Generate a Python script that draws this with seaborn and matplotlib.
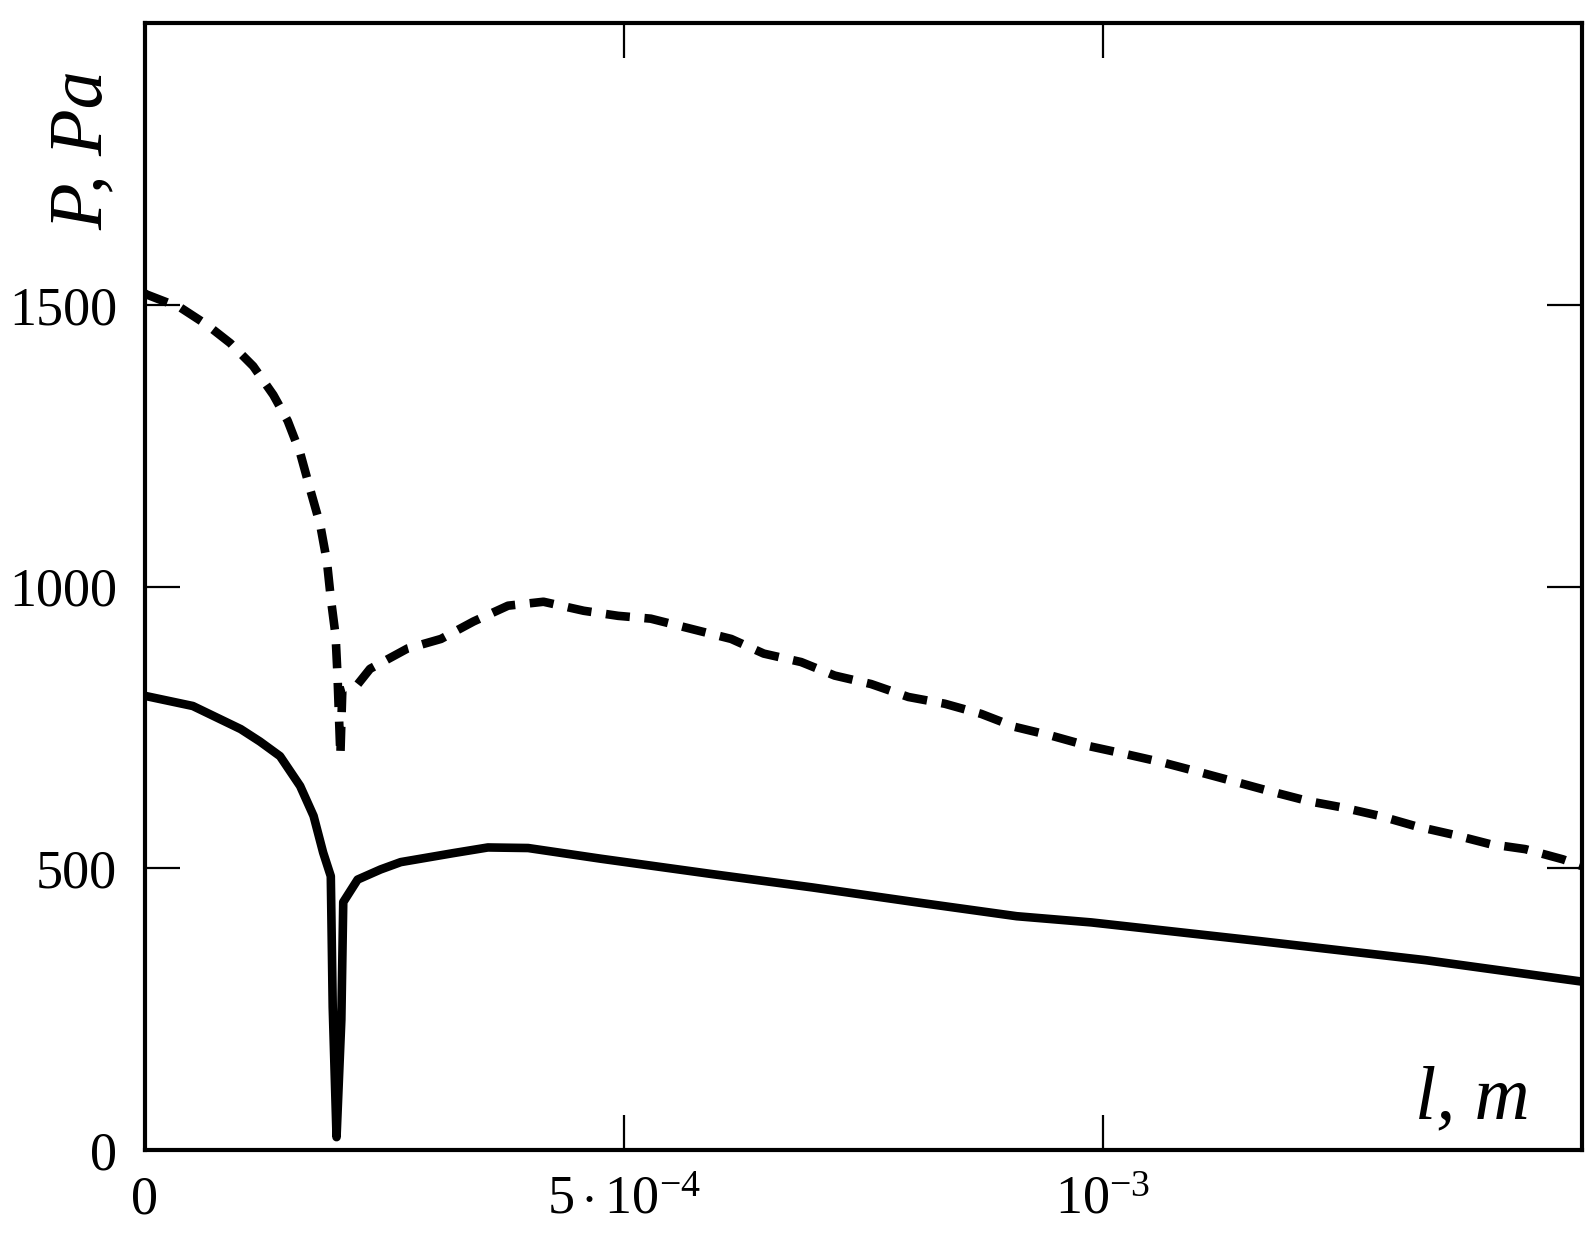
import numpy as np
import pandas as pd
import matplotlib
matplotlib.use('Agg')
import matplotlib.pyplot as plt
import seaborn as sns

# l in units of 1e-4 m, P in Pa
l_solid = [0.0, 0.5, 1.0, 1.2, 1.41, 1.62, 1.76, 1.86, 1.94, 1.96, 2.0, 2.05, 2.07,
           2.22, 2.46, 2.67, 3.22, 3.58, 4.0, 4.76, 5.91, 6.97, 8.04, 9.1, 9.88,
           11.63, 13.37, 15.0]
p_solid = [806, 788, 747, 725, 699, 646, 593, 528, 486, 254, 23, 231, 440,
           480, 498, 511, 527, 537, 536, 517, 490, 466, 440, 415, 404,
           371, 337, 299]

l_dash = [0.0, 0.02, 0.37, 0.65, 0.89, 1.13, 1.34, 1.49, 1.62, 1.73, 1.83, 1.90,
          1.94, 1.99, 2.01, 2.04, 2.06, 2.2, 2.35, 2.74, 3.09, 3.43, 3.79, 4.16,
          4.58, 4.94, 5.28, 5.70, 6.12, 6.46, 6.85, 7.2, 7.58, 7.97, 8.35, 8.73,
          9.08, 9.47, 9.85, 10.23, 10.62, 11.0, 11.35, 11.74, 12.15, 12.5, 12.89,
          13.26, 13.65, 14.04, 14.41, 14.8, 15.0]
p_dash = [1520, 1518, 1495, 1464, 1432, 1391, 1340, 1294, 1237, 1169, 1109, 1044,
          979, 913, 842, 700, 815, 822, 854, 890, 907, 938, 966, 973,
          957, 948, 943, 925, 907, 881, 866, 842, 827, 804, 792, 774,
          751, 735, 717, 703, 688, 671, 655, 637, 619, 608, 593,
          575, 560, 543, 534, 516, 504]

x_ticks = [0, 5e-4, 1e-3]
x_labels = ['0', r'$5\cdot10^{-4}$', r'$10^{-3}$']
y_ticks = [0, 500, 1000, 1500]
y_labels = ['0', '500', '1000', '1500']

solid_df = pd.DataFrame({'l': np.array(l_solid) * 1e-4, 'P': p_solid})
dash_df = pd.DataFrame({'l': np.array(l_dash) * 1e-4, 'P': p_dash})

sns.set_theme(style='ticks')
plt.rcParams['font.family'] = ['Liberation Serif', 'DejaVu Serif']
plt.rcParams['mathtext.fontset'] = 'custom'
plt.rcParams['mathtext.rm'] = 'Liberation Serif'
plt.rcParams['mathtext.it'] = 'Liberation Serif:italic'
plt.rcParams['text.color'] = 'black'

fig = plt.figure(figsize=(15.93, 12.42), dpi=100)
ax = fig.add_axes([0.091, 0.074, 0.902, 0.9075])

sns.lineplot(data=solid_df, x='l', y='P', ax=ax, color='black', lw=6.2,
             sort=False, estimator=None)
line = sns.lineplot(data=dash_df, x='l', y='P', ax=ax, color='black', lw=6.2,
                    sort=False, estimator=None).lines[-1]
line.set_dashes((2.8, 1.7))
line.set_dash_capstyle('butt')

ax.set_xlim(0, 1.5e-3)
ax.set_ylim(0, 2000)
ax.set_xticks(x_ticks)
ax.set_xticklabels(x_labels)
ax.set_yticks(y_ticks)
ax.set_yticklabels(y_labels)
ax.tick_params(direction='in', length=25, width=1.6, top=True, right=True,
               labelsize=39, colors='black')
ax.tick_params(axis='x', pad=18)
ax.tick_params(axis='y', pad=20)
for s in ax.spines.values():
    s.set_linewidth(3)
    s.set_color('black')
ax.set_xlabel('')
ax.set_ylabel('')

ax.text(-0.043, 0.887, 'P, Pa', rotation=90, style='italic', fontsize=55,
        color='black', ha='center', va='center', transform=ax.transAxes)
ax.text(0.924, 0.028, 'l, m', style='italic', fontsize=55,
        color='black', ha='center', va='baseline', transform=ax.transAxes)

fig.savefig('out.png', dpi=100, facecolor='white')
